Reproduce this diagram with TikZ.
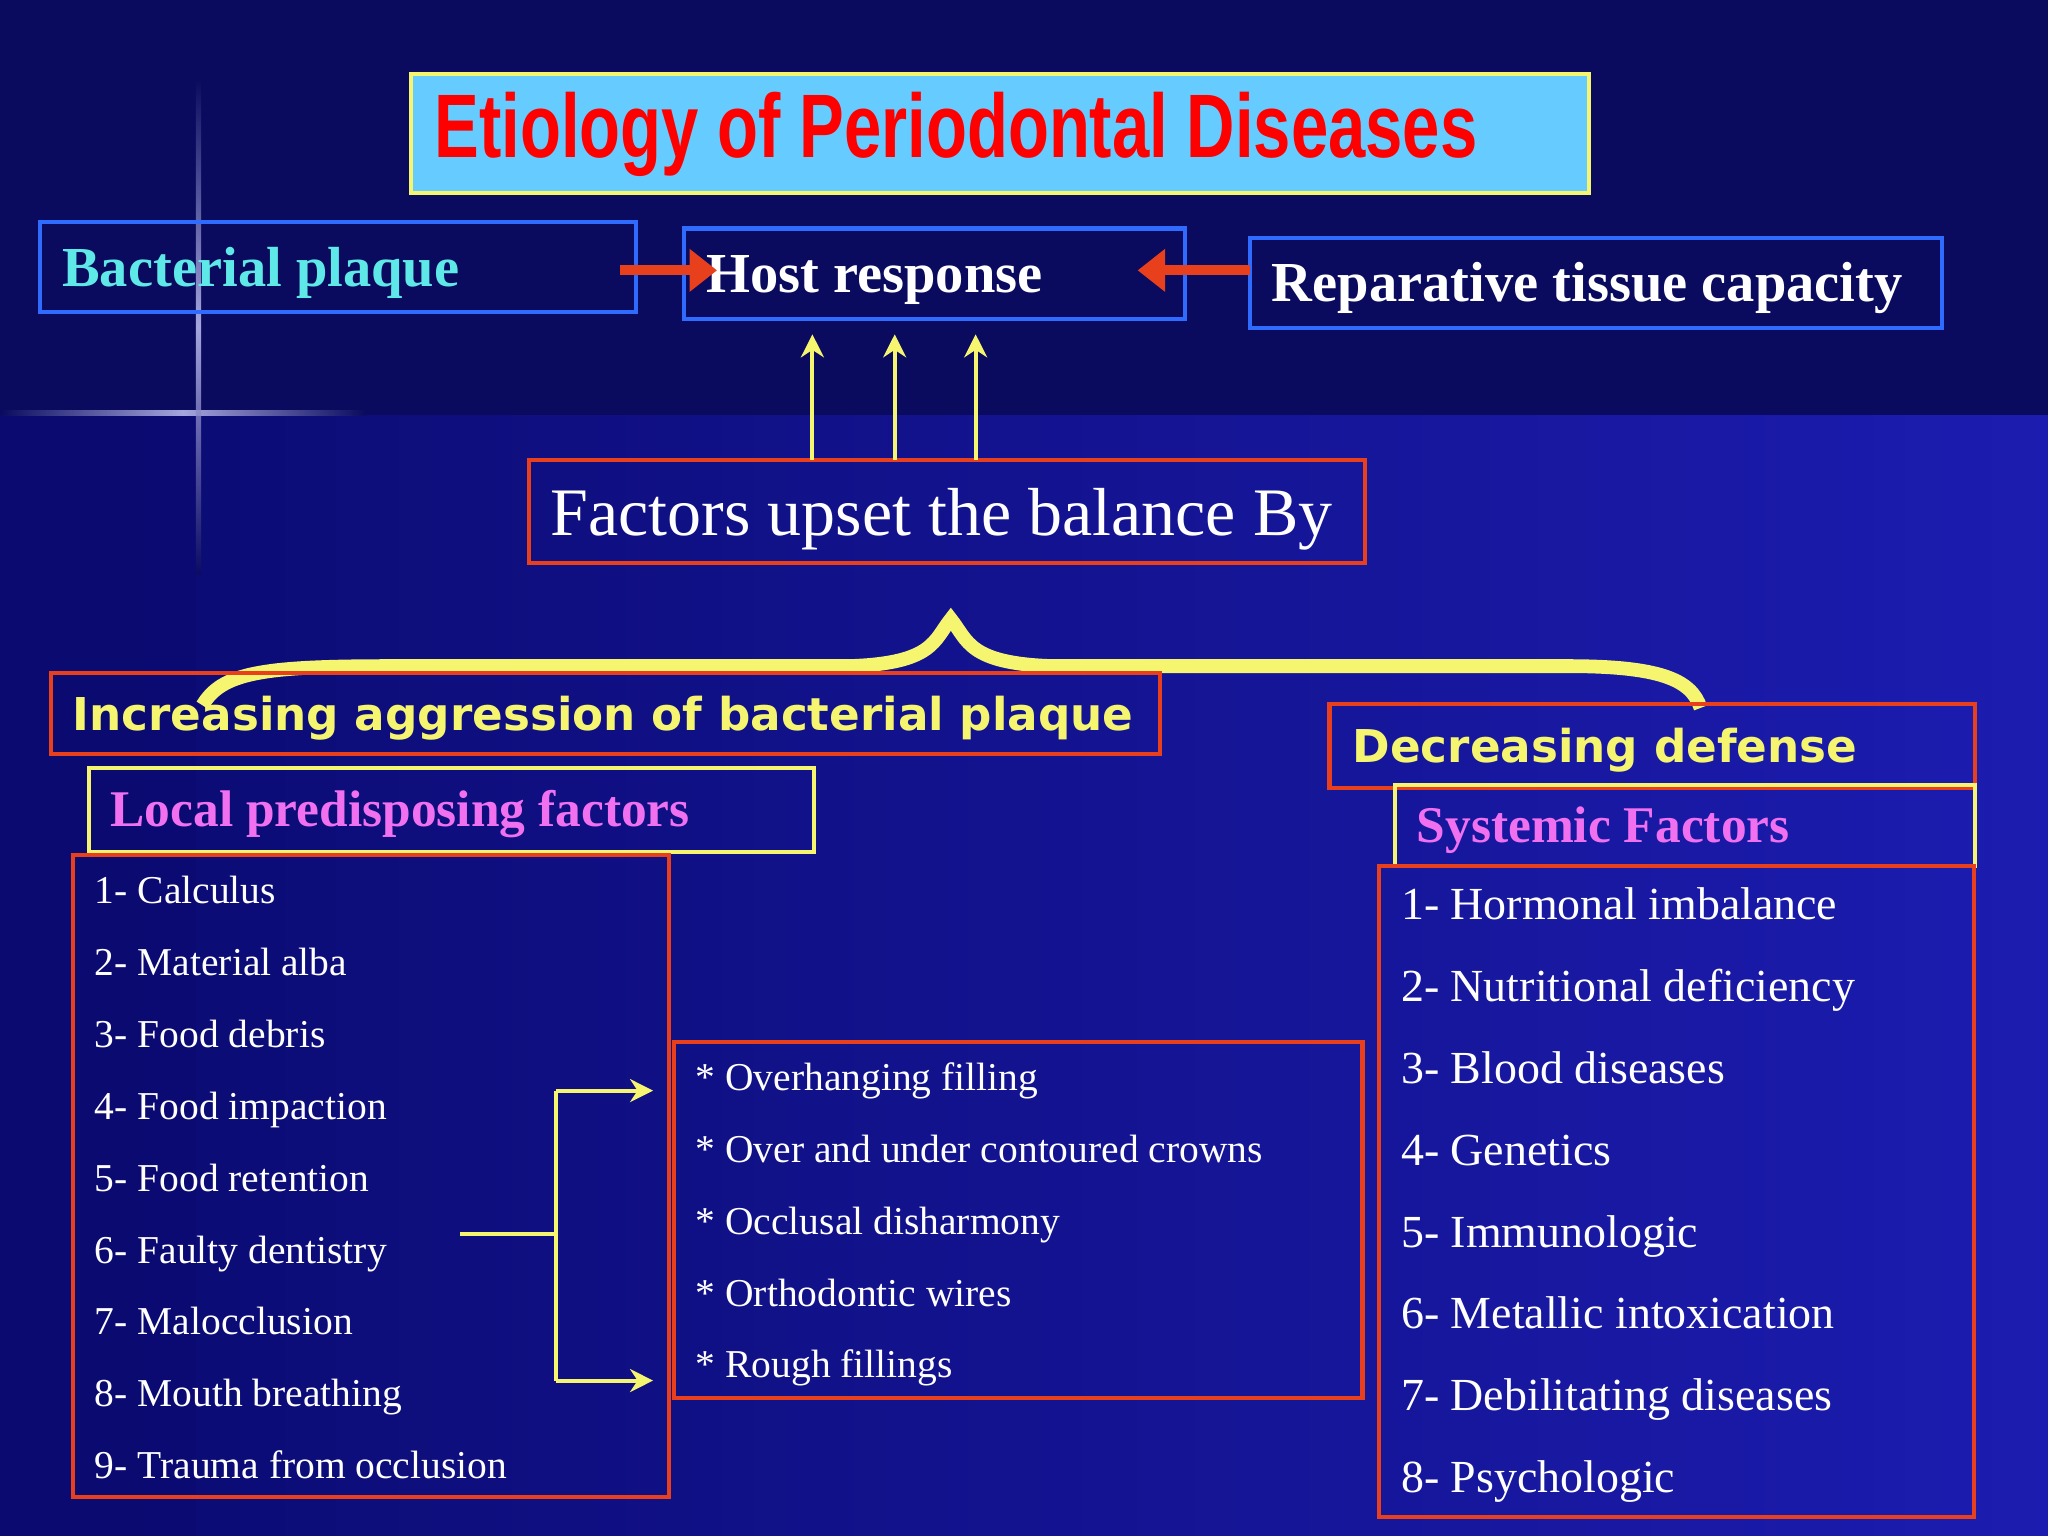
\documentclass[tikz,border=0pt]{standalone}
\usepackage{fontspec}
\setmainfont{Liberation Serif}
\newfontfamily\sansb{DejaVu Sans}
\newfontfamily\titlef{Liberation Sans}
\definecolor{navy}{HTML}{0A0B5E}
\definecolor{lowblue}{HTML}{1C1CB0}
\definecolor{lowdark}{HTML}{0A0A70}
\definecolor{redb}{HTML}{E8401C}
\definecolor{yel}{HTML}{F5F570}
\definecolor{cyant}{HTML}{5FE8E8}
\definecolor{pinkt}{HTML}{F070F0}
\definecolor{titlebg}{HTML}{66CCFF}
\definecolor{blueb}{HTML}{2F6BFF}
\usetikzlibrary{arrows.meta}
\tikzset{
  px/.style={x=0.01cm,y=-0.01cm},
  bx/.style={draw,line width=0.9pt},
  item/.style={anchor=base west,text=white,font=\fontsize{8.6}{10}\selectfont,inner sep=0},
  ritem/.style={anchor=base west,text=white,font=\fontsize{10}{12}\selectfont,inner sep=0},
  yarr/.style={draw=yel,line width=0.9pt,-{Stealth[length=5pt,width=5pt]}},
  rarr/.style={draw=redb,line width=2.2pt,-{Triangle[length=6pt,width=9pt]}},
}
\begin{document}
\begin{tikzpicture}[px]
\useasboundingbox (0,0) rectangle (1568,1176);
\fill[navy] (0,0) rectangle (1568,318);
\shade[left color=lowdark,right color=lowblue] (0,318) rectangle (1568,1176);
\fill[lowdark,opacity=0.6] (0,318) rectangle (150,1176);
% sparkle
\shade[left color=navy,right color=navy,middle color=white!80!blue,opacity=0.8] (0,314) rectangle (280,318);
\shade[top color=navy,bottom color=navy,middle color=white!80!blue,opacity=0.8] (150,60) rectangle (154,440);
% title
\node[bx,draw=yel,fill=titlebg,minimum width=9.01cm,minimum height=0.91cm] (title) at (765.5,102.5) {};
\node[anchor=west,text=red,inner sep=0] at (332,103) {\resizebox{7.98cm}{0.50cm}{\titlef\bfseries Etiology of Periodontal Diseases}};
% top row
\node[bx,draw=blueb,minimum width=4.56cm,minimum height=0.69cm] (bp) at (259,204.5) {};
\node[anchor=base west,text=cyant,font=\fontsize{12.3}{14}\selectfont\bfseries,inner sep=0] at (47,219) {Bacterial plaque};
\node[bx,draw=blueb,minimum width=3.83cm,minimum height=0.69cm] (hr) at (715.5,209.5) {};
\node[anchor=base west,text=white,font=\fontsize{12.3}{14}\selectfont\bfseries,inner sep=0] at (540,224) {Host response};
\node[bx,draw=blueb,minimum width=5.30cm,minimum height=0.69cm] (rt) at (1222,216.5) {};
\node[anchor=base west,text=white,font=\fontsize{12.3}{14}\selectfont\bfseries,inner sep=0] at (973,231) {Reparative tissue capacity};
\coordinate (a1) at (475,207); \coordinate (a2) at (549,207);
\coordinate (b1) at (957,207); \coordinate (b2) at (871,207);
\draw[rarr] (a1) -- (a2);
\draw[rarr] (b1) -- (b2);
% factors
\node[bx,draw=redb,minimum width=6.40cm,minimum height=0.79cm] (fac) at (725,391.5) {};
\node[anchor=base west,text=white,font=\fontsize{14.8}{17}\selectfont,inner sep=0] at (421,410) {Factors upset the balance By};
\foreach \x in {622,685,747}{\draw[yarr] (\x,352) -- (\x,256);}
% brace
\draw[yel,line width=3pt] (155,540) .. controls (170,515) and (200,510) .. (300,510)
  -- (650,510) .. controls (715,508) and (715,490) .. (728,474)
  .. controls (741,490) and (741,508) .. (806,510) -- (1200,510)
  .. controls (1270,510) and (1295,520) .. (1302,542);
% increasing / decreasing
\node[bx,draw=redb,minimum width=8.49cm,minimum height=0.62cm] (inc) at (463.5,546) {};
\node[anchor=base west,text=yel,font=\sansb\fontsize{9.85}{13}\selectfont\bfseries,inner sep=0] at (55,559) {Increasing aggression of bacterial plaque};
\node[bx,draw=redb,minimum width=4.94cm,minimum height=0.64cm] (dec) at (1265,571) {};
\node[anchor=base west,text=yel,font=\sansb\fontsize{9.85}{13}\selectfont\bfseries,inner sep=0] at (1035,584) {Decreasing defense};
\node[bx,draw=yel,minimum width=5.55cm,minimum height=0.64cm] (loc) at (345.5,620) {};
\node[anchor=base west,text=pinkt,font=\fontsize{11.2}{13}\selectfont\bfseries,inner sep=0] at (84,633) {Local predisposing factors};
\node[bx,draw=yel,minimum width=4.44cm,minimum height=0.62cm] (sys) at (1290,632) {};
\node[anchor=base west,text=pinkt,font=\fontsize{11.2}{13}\selectfont\bfseries,inner sep=0] at (1084,645) {Systemic Factors};
% lists
\node[bx,draw=redb,minimum width=4.56cm,minimum height=4.91cm] (lbox) at (284,900.5) {};
\foreach \t [count=\i] in {1- Calculus,2- Material alba,3- Food debris,4- Food impaction,5- Food retention,6- Faulty dentistry,7- Malocclusion,8- Mouth breathing,9- Trauma from occlusion}
  \node[item] at (72,{692+55*(\i-1)}) {\t};
\node[bx,draw=redb,minimum width=5.27cm,minimum height=2.72cm] (mbox) at (779.5,934) {};
\foreach \t [count=\i] in {* Overhanging filling,* Over and under contoured crowns,* Occlusal disharmony,* Orthodontic wires,* Rough fillings}
  \node[item] at (532,{835+55*(\i-1)}) {\t};
\node[bx,draw=redb,minimum width=4.55cm,minimum height=4.98cm] (rbox) at (1283.5,912) {};
\foreach \t [count=\i] in {1- Hormonal imbalance,2- Nutritional deficiency,3- Blood diseases,4- Genetics,5- Immunologic,6- Metallic intoxication,7- Debilitating diseases,8- Psychologic}
  \node[ritem] at (1072,{704+62.7*(\i-1)}) {\t};
% connector
\coordinate (c0) at (352,945); \coordinate (cm) at (426,945);
\coordinate (ct) at (426,835); \coordinate (cb) at (426,1057);
\coordinate (et) at (500,835); \coordinate (eb) at (500,1057);
\draw[yel,line width=0.9pt] (c0) -- (cm) (ct) -- (cb);
\draw[yarr] (ct) -- (et);
\draw[yarr] (cb) -- (eb);
\end{tikzpicture}
\end{document}
